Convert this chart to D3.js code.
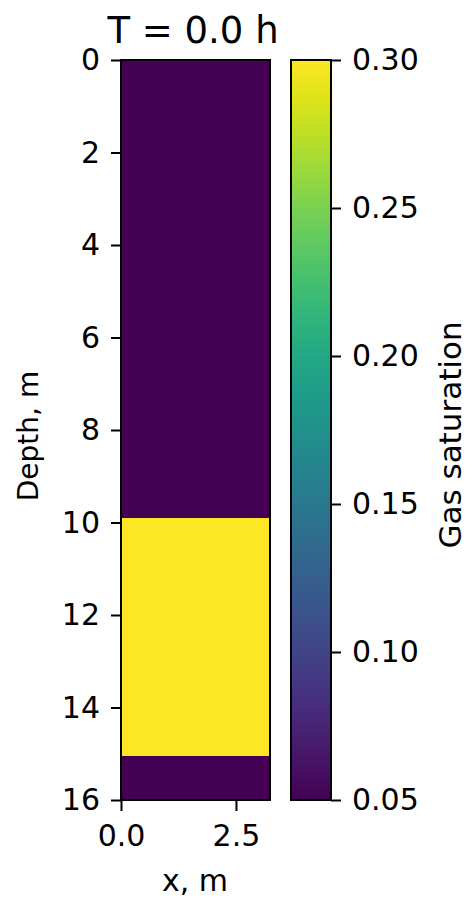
<!DOCTYPE html>
<html>
<head>
<meta charset="utf-8">
<script src="https://cdn.jsdelivr.net/npm/d3@7"></script>
<style>
  body { margin: 0; background: #fff; }
  text { font-family: "DejaVu Sans", sans-serif; fill: #000; }
</style>
</head>
<body>
<script>
// data: gas saturation layers in the column at T = 0
var layerTop = [0, 9.9, 15.05];
var layerBottom = [9.9, 15.05, 16];
var layerSat = [0.05, 0.30, 0.05];
var depthTicks = [0, 2, 4, 6, 8, 10, 12, 14, 16];
var xTicks = [0.0, 2.5];
var cbarTicks = [0.05, 0.10, 0.15, 0.20, 0.25, 0.30];
var xMax = 3.24;

var width = 474, height = 911;
var svg = d3.select("body").append("svg")
  .attr("width", width)
  .attr("height", height);

var plot = { left: 121, right: 270, top: 60, bottom: 800 };
var cbar = { left: 291, right: 331 };

var x = d3.scaleLinear().domain([0, xMax]).range([plot.left, plot.right]);
var y = d3.scaleLinear().domain([0, 16]).range([plot.top, plot.bottom]);
var color = d3.scaleSequential(d3.interpolateViridis).domain([0.05, 0.30]);
var cy = d3.scaleLinear().domain([0.05, 0.30]).range([plot.bottom, plot.top]);

// layers
svg.selectAll("rect.layer")
  .data(layerSat)
  .enter().append("rect")
  .attr("class", "layer")
  .attr("x", x(0))
  .attr("width", x(xMax) - x(0))
  .attr("y", function(d, i) { return y(layerTop[i]); })
  .attr("height", function(d, i) { return y(layerBottom[i]) - y(layerTop[i]); })
  .attr("fill", function(d) { return color(d); })
  .attr("shape-rendering", "crispEdges");

svg.append("rect")
  .attr("x", plot.left).attr("y", plot.top)
  .attr("width", plot.right - plot.left)
  .attr("height", plot.bottom - plot.top)
  .attr("fill", "none").attr("stroke", "#000").attr("stroke-width", 2);

var yAxis = d3.axisLeft(y).tickValues(depthTicks).tickFormat(d3.format("d"))
  .tickSize(10).tickPadding(11);
var gy = svg.append("g").attr("transform", "translate(" + plot.left + ",0)").call(yAxis);

var xAxis = d3.axisBottom(x).tickValues(xTicks).tickFormat(d3.format(".1f"))
  .tickSize(11).tickPadding(14);
var gx = svg.append("g").attr("transform", "translate(0," + plot.bottom + ")").call(xAxis);

[gy, gx].forEach(function(g) {
  g.select(".domain").remove();
  g.selectAll("line").attr("stroke", "#000").attr("stroke-width", 2);
  g.selectAll("text").style("font-family", "DejaVu Sans").style("font-size", "30px");
});

svg.append("text")
  .attr("x", 193).attr("y", 43)
  .attr("text-anchor", "middle").style("font-size", "37px")
  .text("T = 0.0 h");

svg.append("text")
  .attr("transform", "translate(38," + 436 + ") rotate(-90)")
  .attr("text-anchor", "middle").style("font-size", "28px")
  .text("Depth, m");

svg.append("text")
  .attr("x", 195).attr("y", 891)
  .attr("text-anchor", "middle").style("font-size", "30px")
  .text("x, m");

// colorbar
var defs = svg.append("defs");
var grad = defs.append("linearGradient").attr("id", "viridis")
  .attr("x1", 0).attr("y1", 1).attr("x2", 0).attr("y2", 0);
d3.range(0, 1.0001, 0.05).forEach(function(t) {
  grad.append("stop").attr("offset", t).attr("stop-color", d3.interpolateViridis(t));
});
svg.append("rect")
  .attr("x", cbar.left).attr("y", plot.top)
  .attr("width", cbar.right - cbar.left).attr("height", plot.bottom - plot.top)
  .attr("fill", "url(#viridis)")
  .attr("stroke", "#000").attr("stroke-width", 2);

var cAxis = d3.axisRight(cy).tickValues(cbarTicks).tickFormat(d3.format(".2f"))
  .tickSize(10).tickPadding(11);
var gc = svg.append("g").attr("transform", "translate(" + cbar.right + ",0)").call(cAxis);
gc.select(".domain").remove();
gc.selectAll("line").attr("stroke", "#000").attr("stroke-width", 2);
gc.selectAll("text").style("font-family", "DejaVu Sans").style("font-size", "30px");

svg.append("text")
  .attr("transform", "translate(461," + 435 + ") rotate(-90)")
  .attr("text-anchor", "middle").style("font-size", "31px")
  .text("Gas saturation");
</script>
</body>
</html>
